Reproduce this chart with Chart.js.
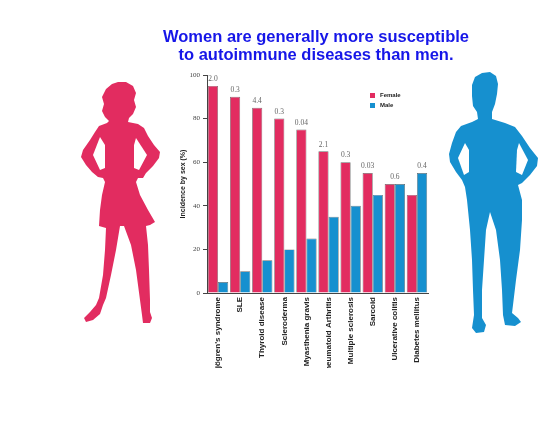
<!DOCTYPE html>
<html><head><meta charset="utf-8">
<script src="https://cdn.jsdelivr.net/npm/chart.js@4.4.1/dist/chart.umd.min.js"></script>
<style>html,body{margin:0;padding:0;background:#fff;} #wrap{position:relative;width:559px;height:444px;}</style>
</head><body><div id="wrap"><canvas id="c"></canvas></div>
<script>
const categories = ["Sjögren's syndrome","SLE","Thyroid disease","Scleroderma","Myasthenia gravis","Rheumatoid Arthritis","Multiple sclerosis","Sarcoid","Ulcerative colitis","Diabetes mellitus"];
const femaleValues = [95,90,85,80,75,65,60,55,50,45];
const maleValues = [5,10,15,20,25,35,40,45,50,55];
const ratioLabels = ["2.0","0.3","4.4","0.3","0.04","2.1","0.3","0.03","0.6","0.4"];
const titleLines = ["Women are generally more susceptible","to autoimmune diseases than men."];

const FEMALE = '#e22c60';
const MALE = '#1690cf';

function poly(ctx, pts, color){
  ctx.beginPath();
  ctx.moveTo(pts[0][0], pts[0][1]);
  for (let i=1;i<pts.length;i++) ctx.lineTo(pts[i][0], pts[i][1]);
  ctx.closePath();
  ctx.fillStyle = color;
  ctx.fill();
}

const silhouettes = {
  id: 'silhouettes',
  beforeDraw(chart){
    const ctx = chart.ctx;
    ctx.save();
    ctx.lineJoin = 'round';
    const woman = [[118,82],[126,82],[133,86],[136,93],[134,100],[136,107],[133,114],[129,118],[128,122],[138,124],[144,128],[148,136],[154,145],[160,152],[159,158],[153,166],[146,173],[143,178],[138,178],[136,182],[140,195],[148,210],[155,222],[150,225],[146,226],[148,245],[149,270],[150,300],[150,312],[152,318],[150,323],[143,323],[142,315],[140,300],[136,270],[131,245],[124,226],[120,226],[116,250],[111,275],[106,298],[103,305],[100,314],[93,320],[86,322],[84,318],[90,312],[96,305],[99,298],[103,275],[105,250],[106,228],[99,226],[100,210],[102,195],[105,182],[103,178],[98,177],[92,172],[86,165],[81,157],[83,150],[90,140],[95,132],[99,126],[107,123],[109,121],[105,117],[102,111],[104,104],[102,97],[106,89],[112,84]];
    poly(ctx, woman, FEMALE);
    poly(ctx, [[100,137],[93,155],[100,170],[105,168],[105,145]], '#fff');
    poly(ctx, [[136,138],[147,155],[139,170],[134,168],[134,145]], '#fff');
    const man = [[482,73],[490,72],[496,76],[498,84],[497,94],[495,104],[492,112],[492,119],[505,123],[515,127],[522,136],[530,148],[538,158],[537,166],[530,175],[522,183],[518,185],[522,200],[522,220],[520,250],[516,280],[513,305],[512,313],[518,318],[521,322],[515,326],[505,325],[503,315],[502,290],[500,260],[496,230],[490,212],[486,230],[484,260],[482,290],[482,318],[486,325],[484,332],[476,333],[472,328],[474,315],[473,290],[472,260],[470,230],[467,200],[465,187],[462,180],[456,172],[450,162],[449,154],[452,143],[456,132],[461,126],[472,122],[478,119],[477,112],[473,106],[472,96],[472,85],[475,77]];
    poly(ctx, man, MALE);
    poly(ctx, [[465,143],[458,158],[464,175],[469,172],[469,150]], '#fff');
    poly(ctx, [[519,143],[528,160],[522,175],[516,172],[517,150]], '#fff');
    ctx.restore();
  }
};

const overlay = {
  id: 'overlay',
  afterDraw(chart){
    const ctx = chart.ctx;
    ctx.save();
    // title
    ctx.font = 'bold 16.5px "Liberation Sans", Arial, sans-serif';
    ctx.fillStyle = '#1616e8';
    ctx.textAlign = 'center';
    ctx.textBaseline = 'alphabetic';
    titleLines.forEach((t,i)=> ctx.fillText(t, 316, 42 + i*17.5));
    // ratio labels above the taller bar
    const mf = chart.getDatasetMeta(0), mm = chart.getDatasetMeta(1);
    ctx.font = '7.5px "Liberation Serif", serif';
    ctx.fillStyle = '#666';
    ctx.textBaseline = 'bottom';
    ratioLabels.forEach((t,i)=>{
      const f = mf.data[i], m = mm.data[i];
      let x, y;
      if (femaleValues[i] > maleValues[i]) { x = f.x; y = f.y; }
      else if (femaleValues[i] < maleValues[i]) { x = m.x; y = m.y; }
      else { x = (f.x+m.x)/2; y = Math.min(f.y,m.y); }
      ctx.fillText(t, x, y - 3);
    });
    // legend
    const ds = chart.data.datasets;
    ctx.font = 'bold 6px "Liberation Sans", Arial, sans-serif';
    ctx.textAlign = 'left';
    ctx.textBaseline = 'middle';
    ds.forEach((d,i)=>{
      const y = 93 + i*10;
      ctx.fillStyle = d.backgroundColor;
      ctx.fillRect(370, y, 5, 5);
      ctx.fillStyle = '#222';
      ctx.fillText(d.label, 380, y + 2.7);
    });
    // white band cutting labels at bottom
    ctx.fillStyle = '#fff';
    ctx.fillRect(0, 368, 559, 76);
    ctx.restore();
  }
};

new Chart(document.getElementById('c'), {
  type: 'bar',
  data: {
    labels: categories,
    datasets: [
      { label: 'Female', data: femaleValues, backgroundColor: FEMALE, borderColor: 'rgba(70,70,70,0.8)', borderWidth: 0.7 },
      { label: 'Male', data: maleValues, backgroundColor: MALE, borderColor: 'rgba(70,70,70,0.8)', borderWidth: 0.7 }
    ]
  },
  options: {
    responsive: true,
    maintainAspectRatio: false,
    animation: false,
    categoryPercentage: 0.92,
    barPercentage: 1.0,
    layout: { padding: { left: 162, right: 131, top: 75, bottom: 0 } },
    plugins: {
      legend: { display: false },
      tooltip: { enabled: false },
      title: { display: false }
    },
    scales: {
      x: {
        grid: { display: false, drawTicks: false },
        border: { display: true, color: '#444', width: 1 },
        ticks: {
          autoSkip: false, minRotation: 90, maxRotation: 90, padding: 4,
          color: '#222',
          font: { family: '"Liberation Sans", Arial, sans-serif', size: 8, weight: 'bold' }
        },
        afterFit(s){ s.height = 151; }
      },
      y: {
        min: 0, max: 100,
        grid: { drawOnChartArea: false, tickLength: 4, color: '#444' },
        border: { display: true, color: '#444', width: 1 },
        ticks: {
          stepSize: 20, padding: 3, color: '#444',
          font: { family: '"Liberation Serif", serif', size: 7 }
        },
        title: {
          display: true, text: 'Incidence by sex (%)', color: '#222',
          font: { family: '"Liberation Sans", Arial, sans-serif', size: 7, weight: 'bold' },
          padding: { top: 17, bottom: 0 }
        },
        afterFit(s){ s.width = 45; }
      }
    }
  },
  plugins: [silhouettes, overlay]
});
</script>
</body></html>
